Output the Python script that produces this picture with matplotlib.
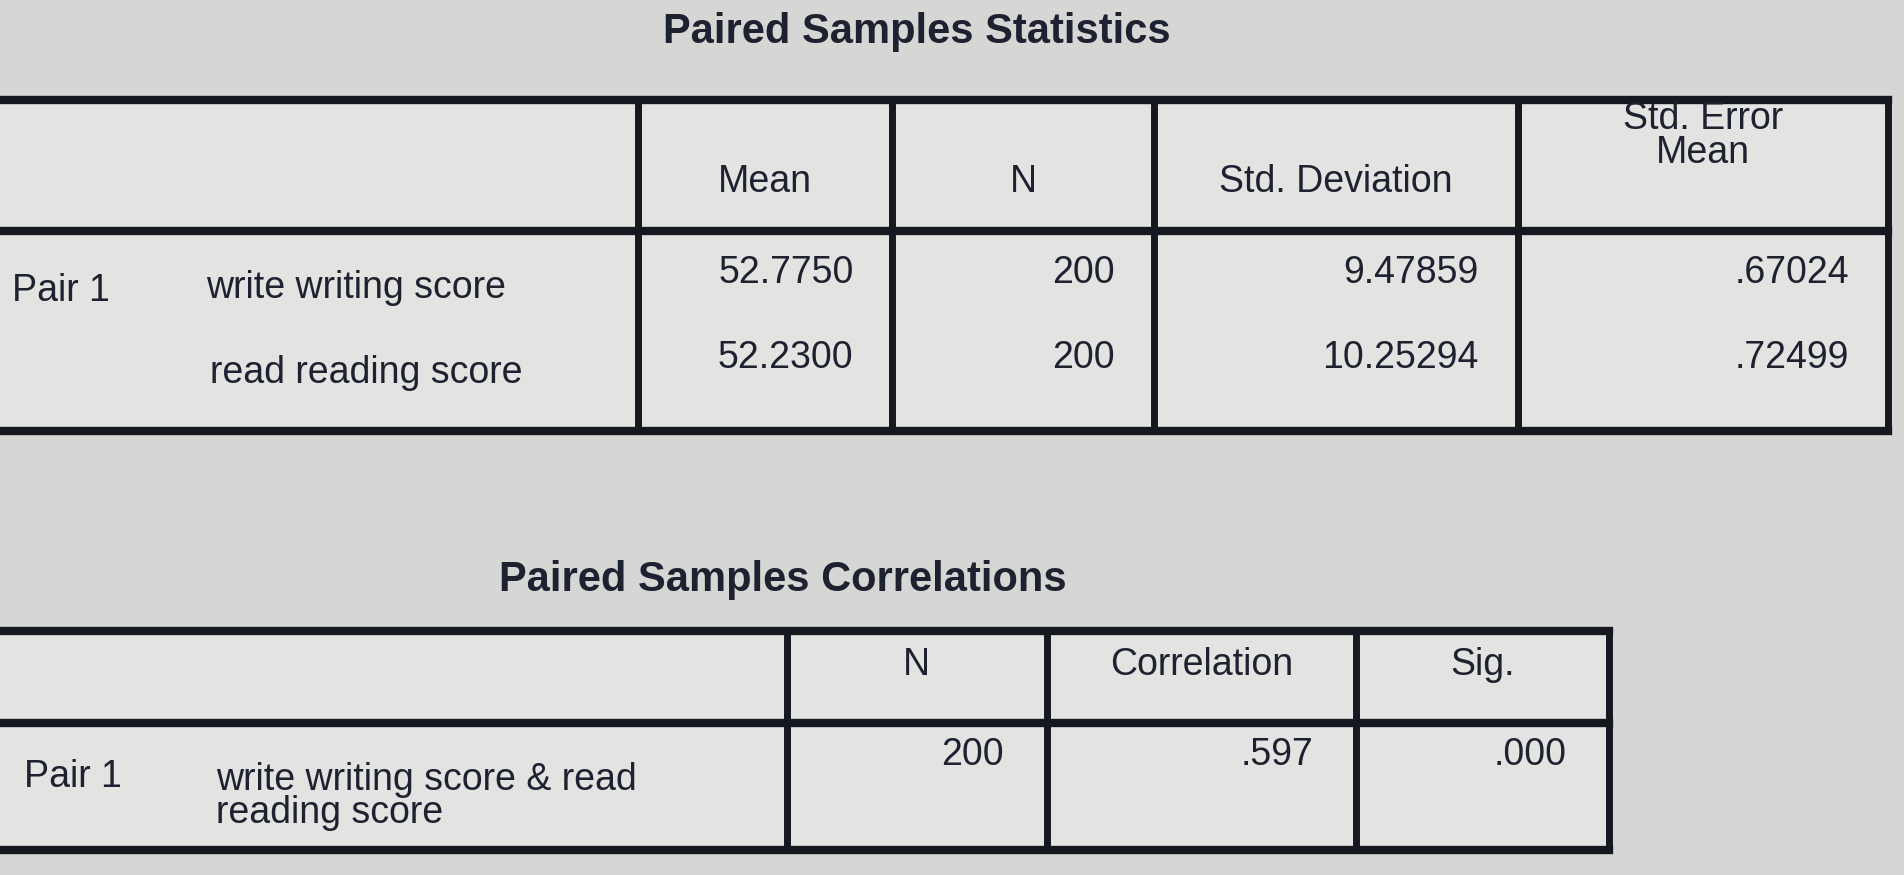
import matplotlib
matplotlib.use("Agg")
import matplotlib.pyplot as plt

title1 = "Paired Samples Statistics"
cols1 = ["Mean", "N", "Std. Deviation", "Std. Error\nMean"]
rows1 = ["write writing score", "read reading score"]
means = ["52.7750", "52.2300"]
ns = ["200", "200"]
sds = ["9.47859", "10.25294"]
sems = [".67024", ".72499"]

title2 = "Paired Samples Correlations"
cols2 = ["N", "Correlation", "Sig."]
rows2 = ["write writing score & read\nreading score"]
n2 = ["200"]
corr = [".597"]
sig = [".000"]

W, H = 1904, 875
S = 1904 / 1568
fig = plt.figure(figsize=(W/100, H/100), dpi=100)
fig.patch.set_facecolor("#d6d6d4")
ax = fig.add_axes([0, 0, 1, 1])
ax.set_xlim(0, W / S); ax.set_ylim(H / S, 0); ax.axis("off")
fam = ["Liberation Sans", "DejaVu Sans"]
fs = 27
tc = "#1e2230"
lc = "#15181f"

def table(xs, ys, cell_color):
    ax.add_patch(plt.Rectangle((xs[0], ys[0]), xs[-1]-xs[0], ys[-1]-ys[0],
                               facecolor=cell_color, edgecolor="none"))
    for y in ys:
        ax.plot([xs[0], xs[-1]], [y, y], color=lc, lw=6)
    for x in xs[1:]:
        ax.plot([x, x], [ys[0], ys[-1]], color=lc, lw=5)

# Table 1
xs1 = [0, 525, 735, 950, 1250, 1555]
ys1 = [82, 190, 355]
table(xs1, ys1, "#e3e3e1")
ax.text(755, 26, title1, ha="center", va="center", fontsize=30, fontweight="bold", family=fam, color=tc)
for i, c in enumerate(cols1):
    cx = (xs1[i+1] + xs1[i+2]) / 2
    ax.text(cx, 150 if "\n" not in c else 112, c, ha="center", va="center", fontsize=fs, family=fam,
            color=tc, linespacing=0.9)
ax.text(10, 240, "Pair 1", ha="left", va="center", fontsize=fs, family=fam, color=tc)
vals1 = [means, ns, sds, sems]
rys = [225, 295]
for r, lab in enumerate(rows1):
    ax.text(170 + r*3, rys[r] + 12, lab, ha="left", va="center", fontsize=fs, family=fam, color=tc)
    for j, col in enumerate(vals1):
        ax.text(xs1[j+2] - 32, rys[r], col[r], ha="right", va="center", fontsize=fs, family=fam, color=tc)

# Table 2
xs2 = [0, 648, 862, 1117, 1325]
ys2 = [520, 595, 700]
table(xs2, ys2, "#e3e3e1")
ax.text(645, 478, title2, ha="center", va="center", fontsize=30, fontweight="bold", family=fam, color=tc)
for i, c in enumerate(cols2):
    cx = (xs2[i+1] + xs2[i+2]) / 2
    ax.text(cx, 548, c, ha="center", va="center", fontsize=fs, family=fam, color=tc)
ax.text(20, 640, "Pair 1", ha="left", va="center", fontsize=fs, family=fam, color=tc)
for r, lab in enumerate(rows2):
    ax.text(178, 656, lab, ha="left", va="center", fontsize=fs, family=fam, color=tc, linespacing=0.9)
    for j, col in enumerate([n2, corr, sig]):
        ax.text(xs2[j+2] - 35, 622, col[r], ha="right", va="center", fontsize=fs, family=fam, color=tc)

fig.savefig("out.png", dpi=100, facecolor=fig.get_facecolor())
